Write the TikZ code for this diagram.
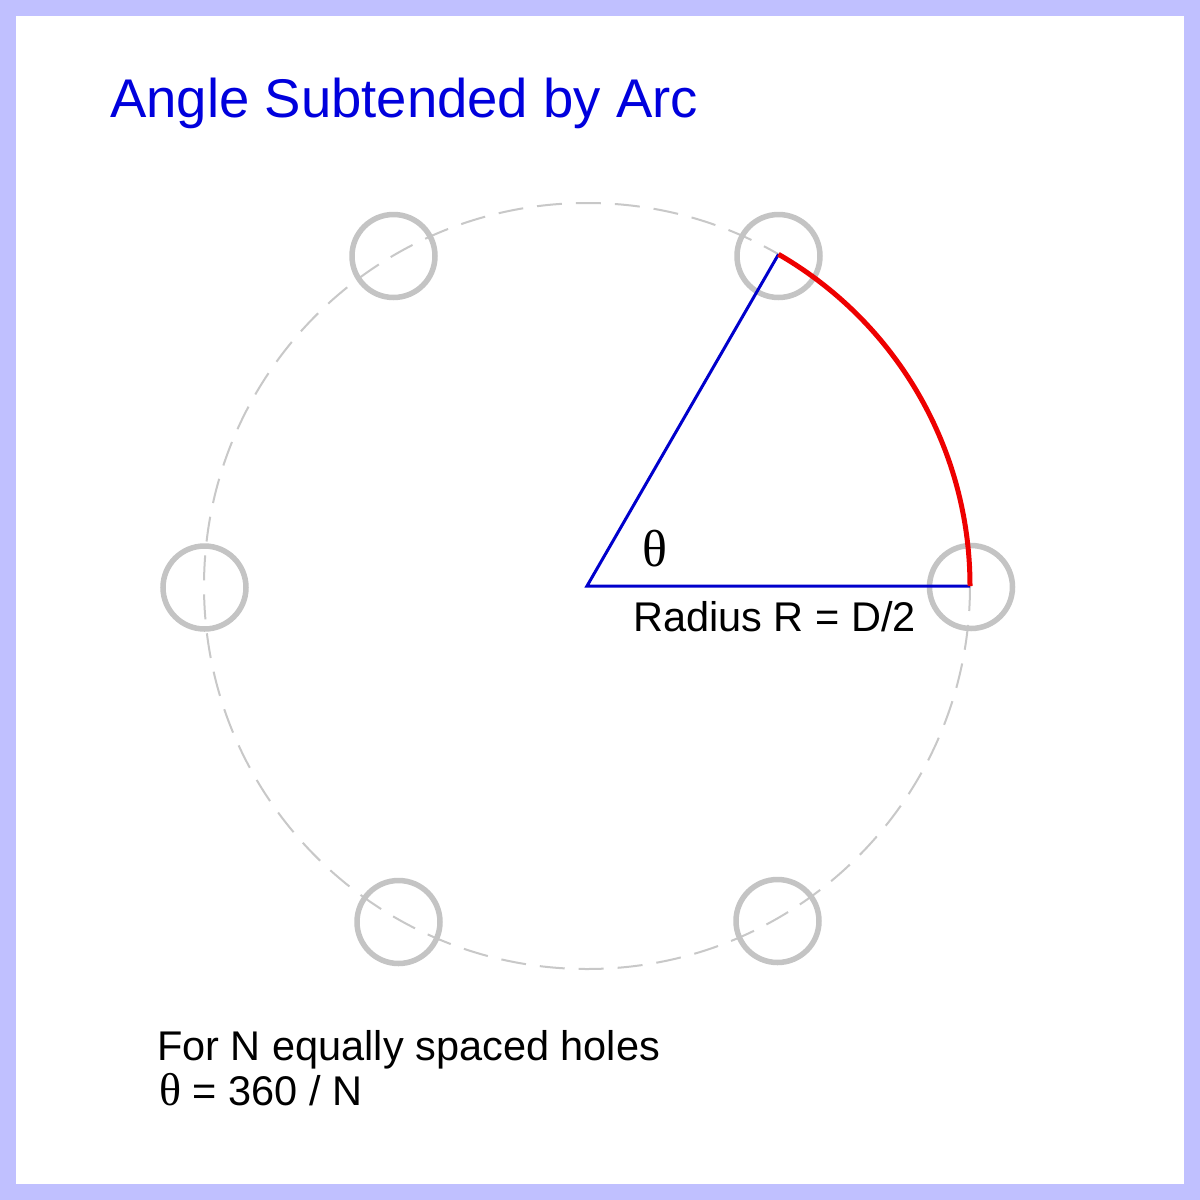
\documentclass[tikz,border=0pt]{standalone}
\usepackage{fontspec}
\usetikzlibrary{calc}
\setmainfont{Liberation Sans}
\newfontfamily\serifgreek{Liberation Serif}
\definecolor{framecol}{HTML}{C0C0FF}
\definecolor{holegray}{HTML}{C4C4C4}
\definecolor{dashgray}{HTML}{C8C8C8}
\definecolor{titleblue}{HTML}{0000DD}
\definecolor{lineblue}{HTML}{0000CC}
\definecolor{arcred}{HTML}{EE0000}
\tikzset{
  hole/.style={circle, draw=holegray, line width=5.5pt, minimum size=83pt, inner sep=0pt},
  pitch/.style={draw=dashgray, line width=2pt, dash pattern=on 25pt off 14pt},
  radline/.style={draw=lineblue, line width=3pt},
  arcline/.style={draw=arcred, line width=5pt},
  lbl/.style={inner sep=0pt, anchor=base west}
}
\begin{document}
\begin{tikzpicture}[x=1pt, y=-1pt]
\fill[framecol] (0,0) rectangle (1200,1200);
\fill[white] (16,16) rectangle (1184,1184);
\useasboundingbox (0,0) rectangle (1200,1200);
\coordinate (c) at (587,586);
\draw[pitch] (c) circle[radius=383];
\node[hole] (h0) at (971,587) {};
\node[hole] (h60) at (778.5,256) {};
\node[hole] (h120) at (393.5,256) {};
\node[hole] (h180) at (204.5,587.5) {};
\node[hole] (h240) at (398.5,922) {};
\node[hole] (h300) at (777.5,921) {};
\coordinate (p0) at ($(c)+(383,0)$);
\coordinate (p60) at ($(c)+(191.5,-331.7)$);
\draw[radline] (p0) -- (c) -- (p60);
\draw[arcline] (p0) arc[start angle=0, end angle=-60, radius=383];
\node[lbl, font=\fontsize{54.5}{60}\selectfont, text=titleblue] (title) at (110,117) {Angle Subtended by Arc};
\node[lbl, font=\serifgreek\fontsize{52}{56}\selectfont] (theta) at (642,566) {θ};
\node[lbl, font=\fontsize{41.5}{46}\selectfont] (rad) at (633,631) {Radius R = D/2};
\node[lbl, font=\fontsize{41.5}{48}\selectfont] (note1) at (157,1060) {For N equally spaced holes};
\node[lbl, font=\fontsize{41.5}{48}\selectfont] (note2) at (159,1105) {{\serifgreek\fontsize{46}{48}\selectfont θ} = 360 / N};
\end{tikzpicture}
\end{document}
